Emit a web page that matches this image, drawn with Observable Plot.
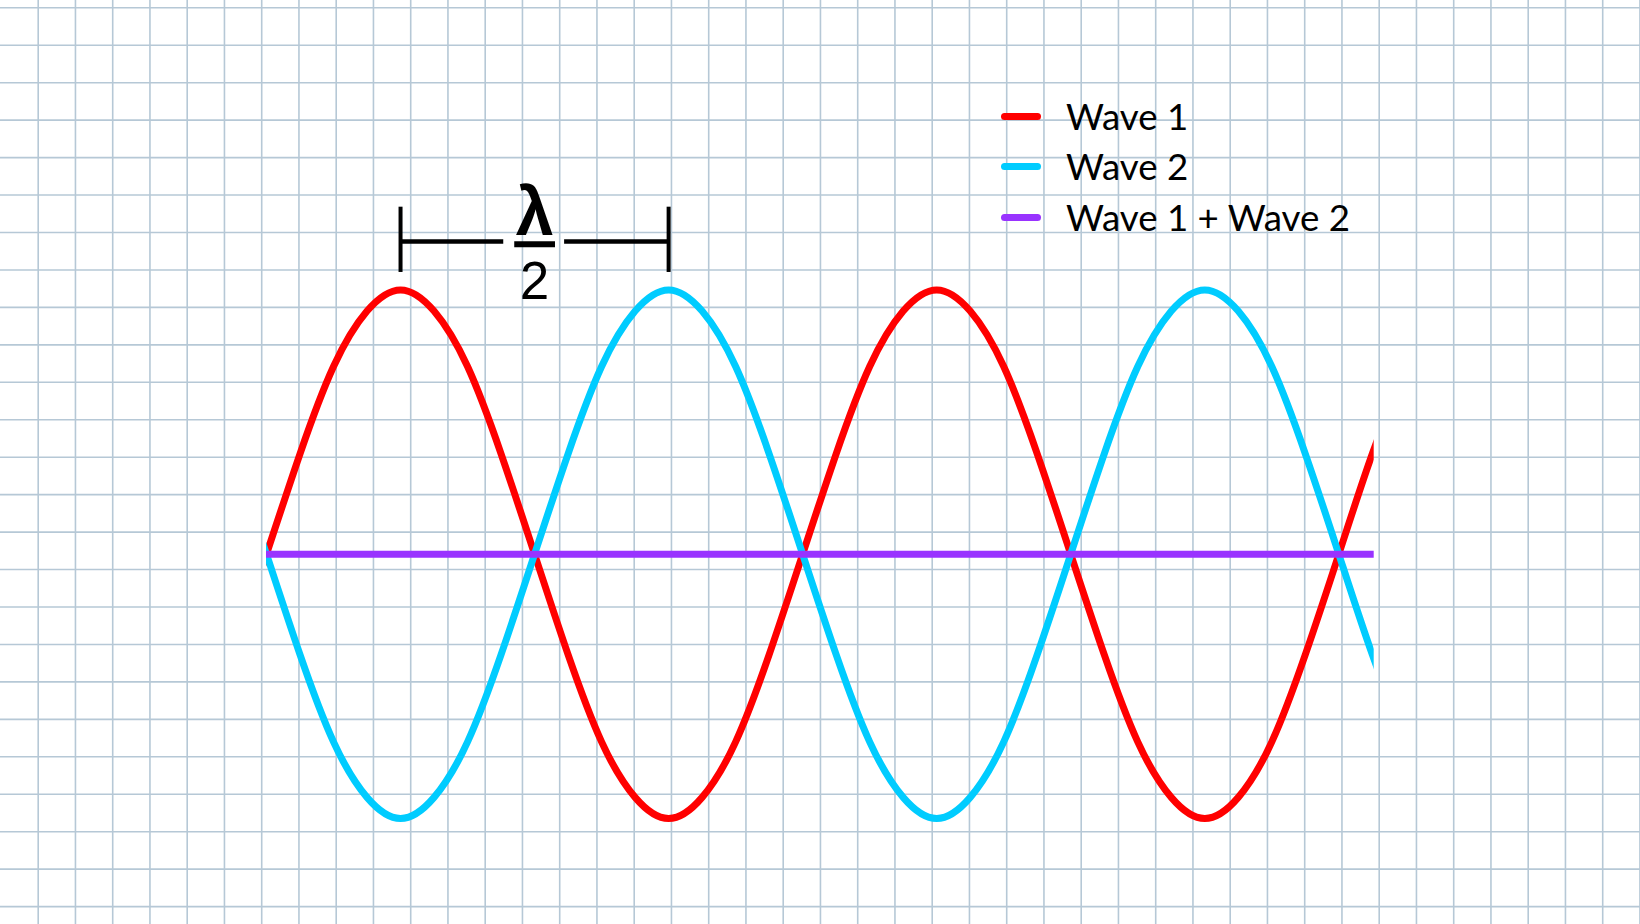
<!DOCTYPE html>
<html><head><meta charset="utf-8">
<script src="https://cdn.jsdelivr.net/npm/d3@7"></script>
<script src="https://cdn.jsdelivr.net/npm/@observablehq/plot@0.6"></script>
<style>
html,body{margin:0;padding:0;background:#fff;overflow:hidden}
#wrap{position:relative;width:1640px;height:924px;background:#fff}
#wrap svg{position:absolute;left:0;top:0;max-width:none}
#legend{position:absolute;left:1001px;top:91px;font-family:Lato,"Open Sans",sans-serif;font-size:36.7px;color:#000;line-height:1}
.row{display:flex;align-items:center;height:50.5px}
.sw{width:40px;height:7px;border-radius:4px;margin-right:25px;flex:none}
</style></head><body><div id="wrap"></div>
<script>
// phase positions, in units of half a wavelength (λ/2)
const phaseX = [-0.125, 0, 0.125, 0.25, 0.375, 0.5, 0.625, 0.75, 0.875, 1, 1.125, 1.25, 1.375, 1.5, 1.625, 1.75, 1.875, 2, 2.125, 2.25, 2.375, 2.5, 2.625, 2.75, 2.875, 3, 3.125, 3.25, 3.375, 3.5, 3.625, 3.75, 3.875, 4, 4.125, 4.25];
// displacement (amplitude = 1)
const wave1 = [-0.38, 0, 0.38, 0.71, 0.92, 1, 0.92, 0.71, 0.38, 0, -0.38, -0.71, -0.92, -1, -0.92, -0.71, -0.38, 0, 0.38, 0.71, 0.92, 1, 0.92, 0.71, 0.38, 0, -0.38, -0.71, -0.92, -1, -0.92, -0.71, -0.38, 0, 0.38, 0.71];
const wave2 = [0.38, 0, -0.38, -0.71, -0.92, -1, -0.92, -0.71, -0.38, 0, 0.38, 0.71, 0.92, 1, 0.92, 0.71, 0.38, 0, -0.38, -0.71, -0.92, -1, -0.92, -0.71, -0.38, 0, 0.38, 0.71, 0.92, 1, 0.92, 0.71, 0.38, 0, -0.38, -0.71];
const waveSum = [0, 0, 0, 0, 0, 0, 0, 0, 0, 0, 0, 0, 0, 0, 0, 0, 0, 0, 0, 0, 0, 0, 0, 0, 0, 0, 0, 0, 0, 0, 0, 0, 0, 0, 0, 0];
const seriesNames = ["Wave 1", "Wave 2", "Wave 1 + Wave 2"];
const seriesColors = ["#ff0000", "#00ccff", "#9933ff"];
// λ/2 bracket: from the first crest of Wave 1 to the first crest of Wave 2
const bracketEnds = [0.5, 1.5];
const bracketSegments = [{x1: 0.5, x2: 0.885}, {x1: 1.112, x2: 1.5}];
const numerator = ["λ"];
const denominator = ["2"];

// graph-paper background (pixel units)
const W = 1640, H = 924;
const gridXs = d3.range(37.7, W + 1, 37.25);
const gridYs = d3.range(7.3, H + 1, 37.45);

const wrap = document.getElementById("wrap");

const paper = Plot.plot({
  width: W, height: H, margin: 0,
  x: {domain: [0, W], axis: null},
  y: {domain: [0, H], range: [0, H], axis: null},
  style: {background: "#fff"},
  marks: [
    Plot.ruleX(gridXs, {stroke: "#b6c8d6", strokeWidth: 1.6}),
    Plot.ruleY(gridYs, {stroke: "#b6c8d6", strokeWidth: 1.6})
  ]
});
wrap.appendChild(paper);

const rows = [];
phaseX.forEach((x, i) => rows.push({x, v: wave1[i], s: seriesNames[0]}));
phaseX.forEach((x, i) => rows.push({x, v: wave2[i], s: seriesNames[1]}));
phaseX.forEach((x, i) => rows.push({x, v: waveSum[i], s: seriesNames[2]}));

const chart = Plot.plot({
  width: W, height: H,
  marginLeft: 266, marginRight: 266.3, marginTop: 0, marginBottom: 0,
  x: {domain: [0, 4.132], axis: null},
  y: {domain: [-1.401, 2.095], axis: null},
  color: {domain: seriesNames, range: seriesColors},
  style: {background: "transparent", overflow: "visible"},
  marks: [
    Plot.line(rows, {x: "x", y: "v", z: "s", stroke: "s", strokeWidth: 7, curve: "natural", clip: true}),
    Plot.ruleX(bracketEnds, {y1: 1.066, y2: 1.313, stroke: "#000", strokeWidth: 4}),
    Plot.ruleY(bracketSegments, {x1: "x1", x2: "x2", y: 1.183, stroke: "#000", strokeWidth: 4.5}),
    Plot.ruleY([1], {x1: 0.926, x2: 1.078, y: 1.173, stroke: "#000", strokeWidth: 6}),
    Plot.text(numerator, {x: 1, y: 1.2077, text: d => d, fontSize: 68, fontWeight: "bold", fontFamily: "Liberation Sans", lineAnchor: "bottom", fill: "#000"}),
    Plot.text(denominator, {x: 1, y: 0.966, text: d => d, fontSize: 53, fontFamily: "Liberation Sans", lineAnchor: "bottom", fill: "#000"})
  ]
});
wrap.appendChild(chart);

const legend = document.createElement("div");
legend.id = "legend";
seriesNames.forEach((name, i) => {
  const row = document.createElement("div");
  row.className = "row";
  const sw = document.createElement("span");
  sw.className = "sw";
  sw.style.background = seriesColors[i];
  const t = document.createElement("span");
  t.textContent = name;
  row.appendChild(sw);
  row.appendChild(t);
  legend.appendChild(row);
});
wrap.appendChild(legend);
</script>
</body></html>
